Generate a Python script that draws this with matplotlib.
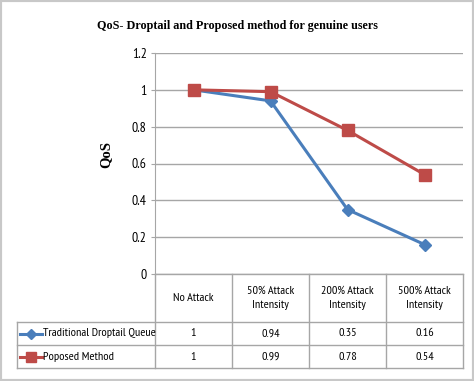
import matplotlib
matplotlib.use("Agg")
import matplotlib.pyplot as plt
from matplotlib.lines import Line2D
from matplotlib.patches import Rectangle

categories = ["No Attack", "50% Attack\nIntensity", "200% Attack\nIntensity", "500% Attack\nIntensity"]
series_names = ["Traditional Droptail Queue", "Poposed Method"]
droptail = [1, 0.94, 0.35, 0.16]
proposed = [1, 0.99, 0.78, 0.54]
droptail_labels = ["1", "0.94", "0.35", "0.16"]
proposed_labels = ["1", "0.99", "0.78", "0.54"]
yticks = [0, 0.2, 0.4, 0.6, 0.8, 1, 1.2]
ytick_labels = ["0", "0.2", "0.4", "0.6", "0.8", "1", "1.2"]

W, H = 474, 381
fig = plt.figure(figsize=(W / 100, H / 100), dpi=100)
fig.patch.set_facecolor("white")

narrow = ["PT Sans Narrow", "DejaVu Sans"]
tfs = 8.7

def fx(x):
    return x / W

def fy(y):
    return 1 - y / H

# outer frame
fig.add_artist(Rectangle((0, 0), 1, 1, transform=fig.transFigure, fill=False,
                         edgecolor="#c8c8c8", linewidth=3))

left, right, top, bottom = 155, 463, 53, 274
ax = fig.add_axes([fx(left), fy(bottom), fx(right - left), fy(top) - fy(bottom)])
ax.set_xlim(-0.5, 3.5)
ax.set_ylim(0, 1.2)
ax.set_yticks(yticks)
ax.set_yticklabels(ytick_labels, family=narrow, fontsize=10)
ax.set_xticks([])
ax.yaxis.grid(True, color="#a6a6a6", linewidth=1)
ax.set_axisbelow(True)
for s in ["top", "right", "bottom"]:
    ax.spines[s].set_visible(False)
ax.spines["left"].set_color("#a6a6a6")
ax.tick_params(axis="y", length=3, color="#a6a6a6", pad=3)

blue = "#4a7ebb"
red = "#be4b48"
x = range(len(categories))
ax.plot(x, droptail, color=blue, linewidth=2.2, marker="D", markersize=6, clip_on=False)
ax.plot(x, proposed, color=red, linewidth=2.2, marker="s", markersize=8, clip_on=False)

fig.text(fx(106), fy(154), "QoS", rotation=90, ha="center", va="center",
         family="Liberation Serif", fontweight="bold", fontsize=10.5)

fig.text(0.5, fy(26), "QoS- Droptail and Proposed method for genuine users",
         ha="center", va="center", family="Liberation Serif", fontweight="bold", fontsize=8.7)

# table
col_edges = [155, 232, 309, 386, 463]
row_edges = [274, 322, 345, 368]
tleft = 17
lc = "#a6a6a6"

def hline(y, x0, x1):
    fig.add_artist(Line2D([fx(x0), fx(x1)], [fy(y), fy(y)], transform=fig.transFigure,
                          color=lc, linewidth=1))

def vline(xp, y0, y1):
    fig.add_artist(Line2D([fx(xp), fx(xp)], [fy(y0), fy(y1)], transform=fig.transFigure,
                          color=lc, linewidth=1))

hline(row_edges[0], col_edges[0], col_edges[-1])
for y in row_edges[1:]:
    hline(y, tleft, col_edges[-1])
for xp in col_edges:
    vline(xp, row_edges[0], row_edges[-1])
vline(tleft, row_edges[1], row_edges[-1])

for i, cat in enumerate(categories):
    cx = (col_edges[i] + col_edges[i + 1]) / 2
    cy = (row_edges[0] + row_edges[1]) / 2
    fig.text(fx(cx), fy(cy), cat, ha="center", va="center", family=narrow,
             fontsize=tfs, linespacing=1.45)

rows = [(series_names[0], droptail_labels, blue, "D", 5),
        (series_names[1], proposed_labels, red, "s", 7)]
for r, (name, vals, col, mk, ms) in enumerate(rows):
    cy = (row_edges[r + 1] + row_edges[r + 2]) / 2
    fig.add_artist(Line2D([fx(20), fx(42)], [fy(cy), fy(cy)], transform=fig.transFigure,
                          color=col, linewidth=2.2))
    fig.add_artist(Line2D([fx(31)], [fy(cy)], transform=fig.transFigure,
                          color=col, marker=mk, markersize=ms, linestyle="none"))
    fig.text(fx(43), fy(cy), name, ha="left", va="center", family=narrow, fontsize=tfs)
    for i, v in enumerate(vals):
        cx = (col_edges[i] + col_edges[i + 1]) / 2
        fig.text(fx(cx), fy(cy), v, ha="center", va="center", family=narrow, fontsize=tfs)

fig.savefig("out.png", dpi=100, facecolor="white")
